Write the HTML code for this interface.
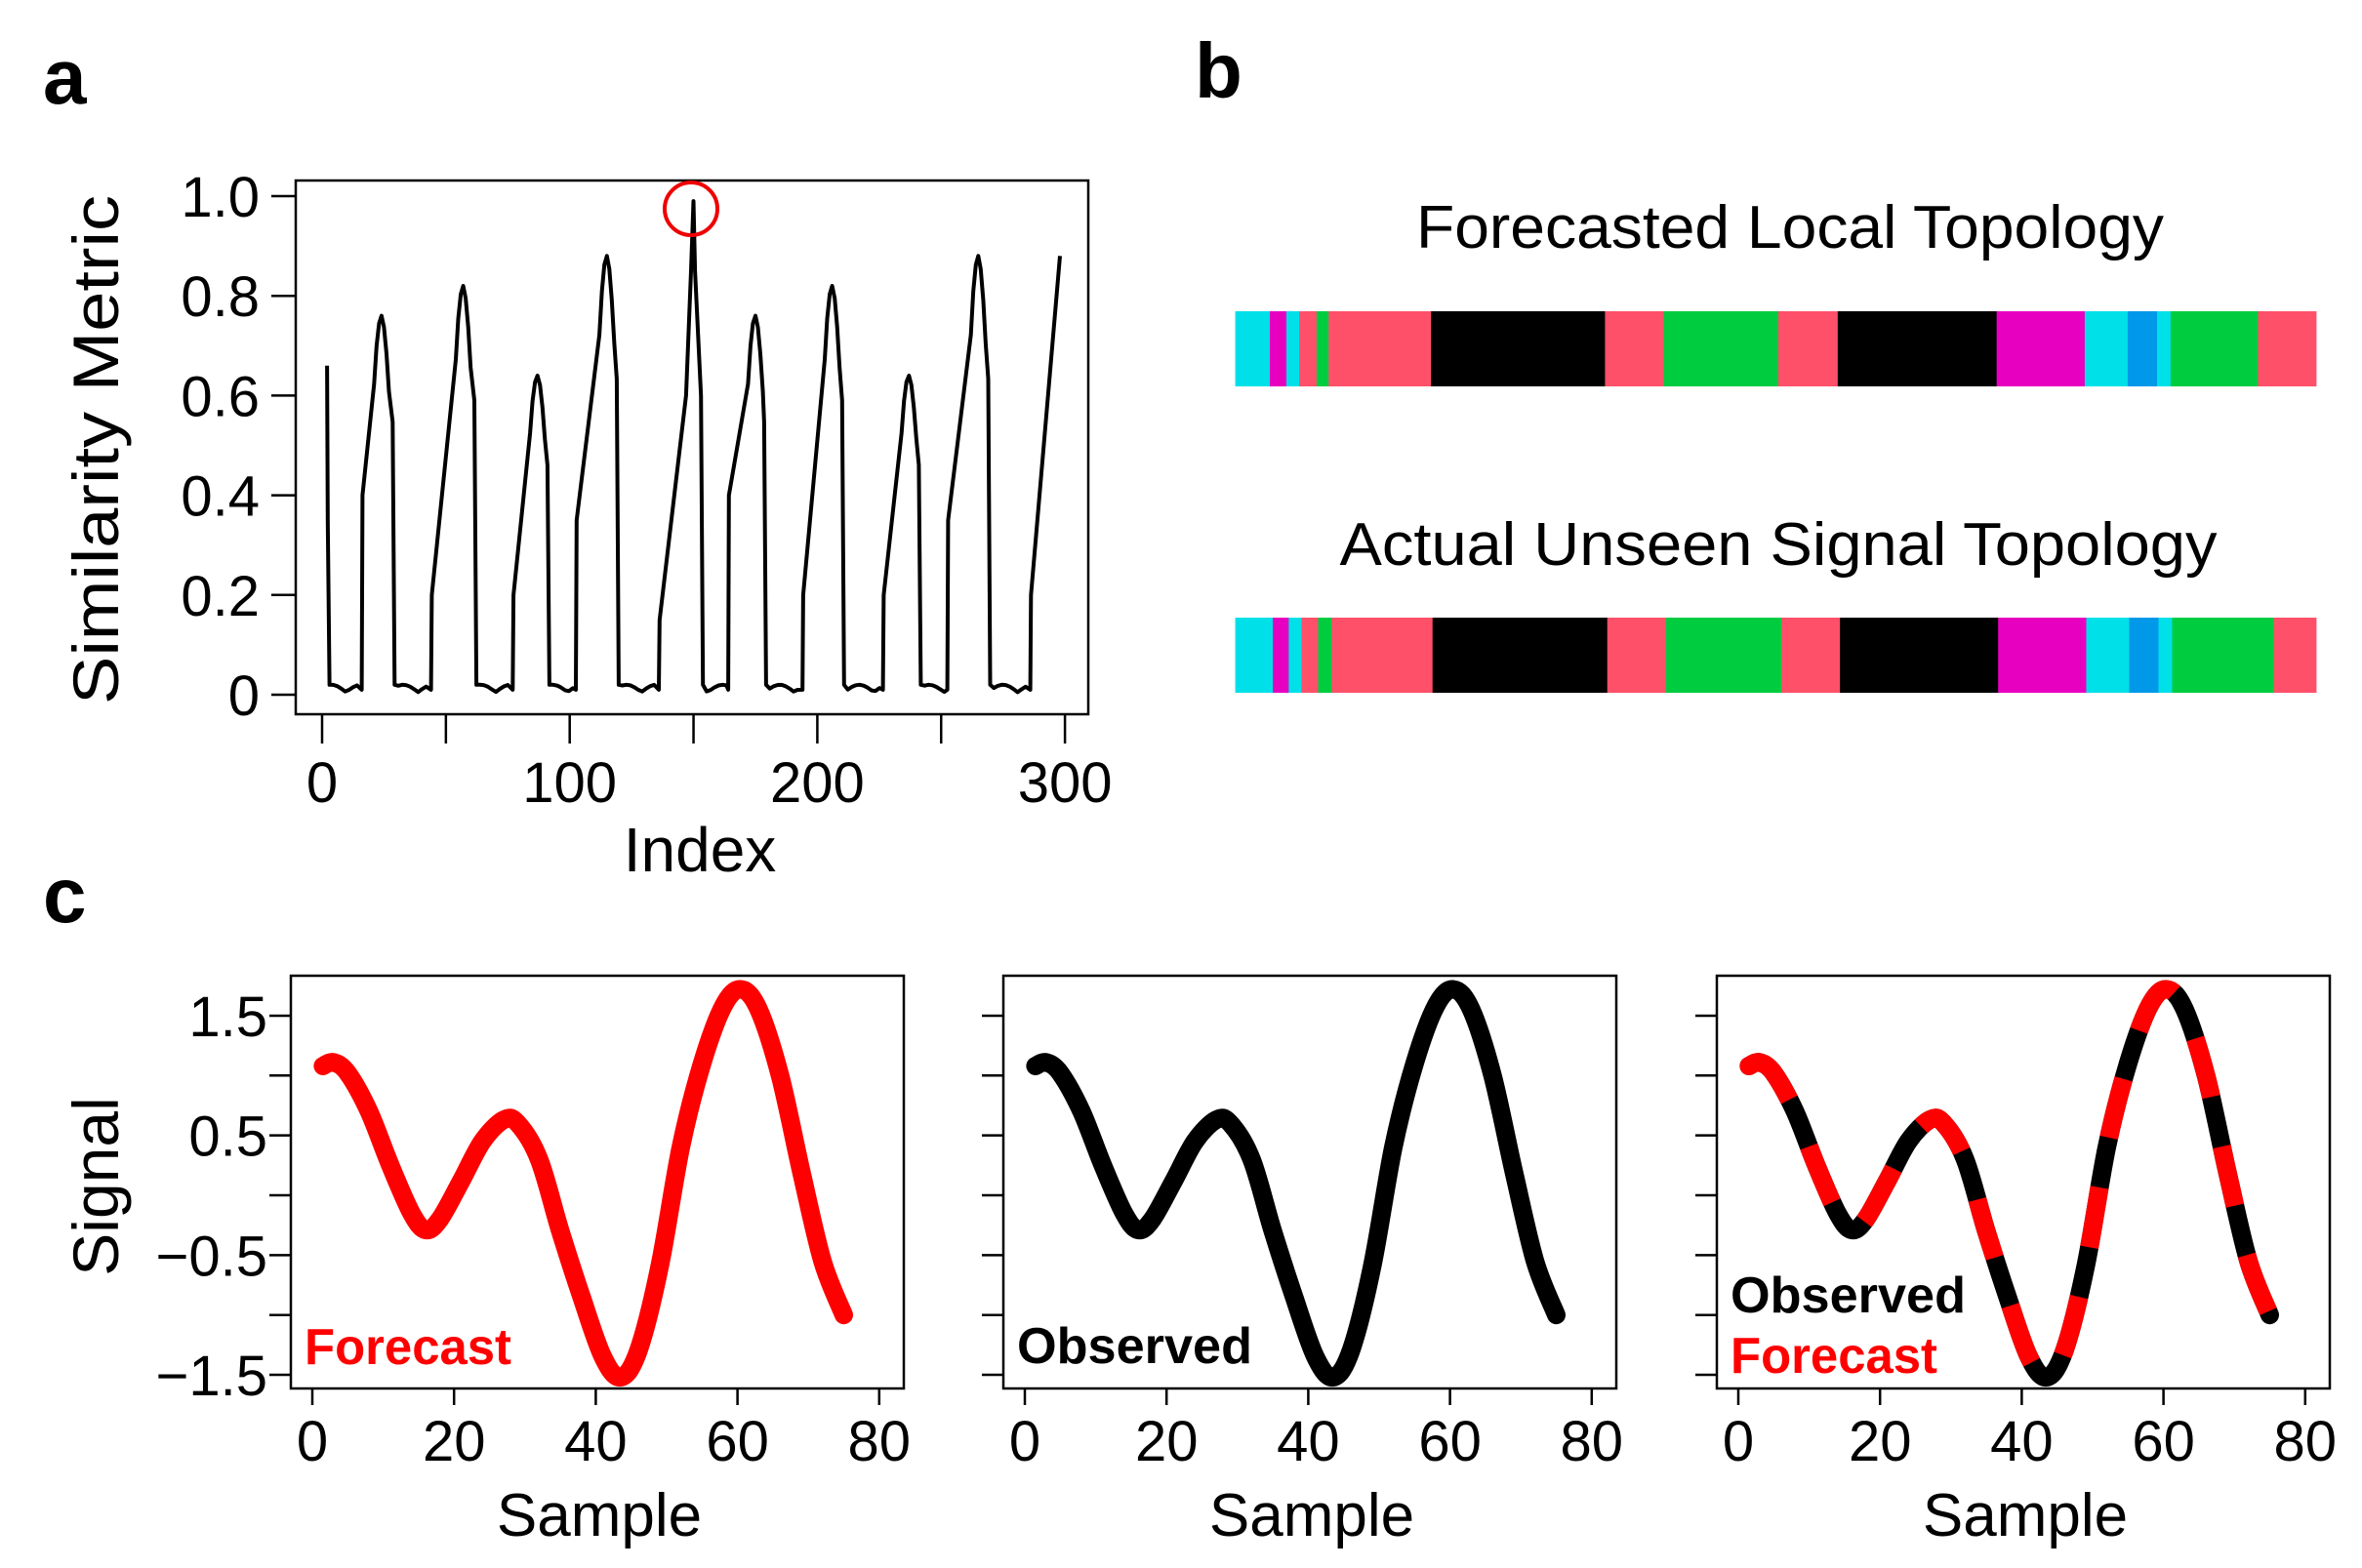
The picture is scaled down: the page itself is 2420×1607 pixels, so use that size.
<!DOCTYPE html>
<html><head><meta charset="utf-8">
<style>
html,body{margin:0;padding:0;background:#fff;}
svg{display:block;}
text{font-family:"Liberation Sans",sans-serif;}
</style></head>
<body>
<svg id="s" width="2420" height="1607" viewBox="0 0 2420 1607" xmlns="http://www.w3.org/2000/svg">
<rect width="2420" height="1607" fill="#fff"/>
<text x="44" y="106" font-size="80" font-weight="bold">a</text>
<text x="1224" y="100" font-size="80" font-weight="bold">b</text>
<text x="44" y="945" font-size="80" font-weight="bold">c</text>

<g id="pa">
<rect x="303" y="185" width="812" height="547" fill="none" stroke="#000" stroke-width="2.5"/>
<g stroke="#000" stroke-width="2.5" id="aticks"></g>
<g font-size="58" text-anchor="end" id="aylab"></g>
<g font-size="58" text-anchor="middle" id="axlab"></g>
<text x="717" y="893" font-size="64" text-anchor="middle">Index</text>
<text transform="translate(121,461) rotate(-90)" font-size="66" text-anchor="middle" textLength="522" lengthAdjust="spacingAndGlyphs">Similarity Metric</text>
<path id="aline" fill="none" stroke="#000" stroke-width="4" stroke-linejoin="round"/>
<circle cx="708" cy="214" r="27" fill="none" stroke="#e00" stroke-width="4"/>
</g>

<text x="1834" y="254" font-size="62" text-anchor="middle" textLength="766" lengthAdjust="spacingAndGlyphs">Forecasted Local Topology</text>
<text x="1822" y="579" font-size="62" text-anchor="middle" textLength="899" lengthAdjust="spacingAndGlyphs">Actual Unseen Signal Topology</text>
<g id="bars"></g>

<g id="pc"></g>
</svg>
<script>
var NS="http://www.w3.org/2000/svg";
function el(p,tag,attrs,txt){var e=document.createElementNS(NS,tag);for(var k in attrs)e.setAttribute(k,attrs[k]);if(txt!==undefined)e.textContent=txt;p.appendChild(e);return e;}
var at=document.getElementById('aticks'),ay=document.getElementById('aylab'),ax=document.getElementById('axlab');
function Ya(v){return 712-v*511;}
function Xa(i){return 330+i*2.537;}
var yl=["0","0.2","0.4","0.6","0.8","1.0"];
for(var k=0;k<=5;k++){var y=Ya(k*0.2);el(at,'line',{x1:278,x2:303,y1:y,y2:y});el(ay,'text',{x:266,y:y+21},yl[k]);}
for(var k=0;k<=6;k++){var x=Xa(k*50);el(at,'line',{x1:x,x2:x,y1:732,y2:762});}
for(var k=0;k<=3;k++){el(ax,'text',{x:Xa(k*100),y:822},String(k*100));}
var peaks=[[16,0.4,24,0.76,28.5],[44,0.2,57,0.82,61.5],[77,0.2,87,0.64,91],[102.5,0.35,115,0.88,119],[136,0.15,150,0.99,153],[164,0.4,175,0.76,178.5],[194,0.2,206,0.82,210],[226.5,0.2,237,0.64,241],[252.5,0.35,265,0.88,269],[286,0.2,298,0.88,null]];
var pts=[[2,0.66],[2.3,0.35],[3,0.02]];
var last=3;
function noise(a,b){for(var t=a+1.5;t<b-0.5;t+=1.6){pts.push([t,0.005+0.015*Math.abs(Math.sin(t*1.7))]);}}
for(var i=0;i<peaks.length;i++){var P=peaks[i];noise(last,P[0]);pts.push([P[0],0.01]);pts.push([P[0]+0.3,P[1]]);
 var p=P[3],pk=P[2];
 if(i==4){pts.push([pk-3,0.6]);pts.push([pk-1,0.85]);pts.push([pk,p]);pts.push([pk+0.6,0.85]);pts.push([P[4],0.6]);}
 else if(P[4]===null){pts.push([pk,p]);break;}
 else{pts.push([pk-3,p*0.82]);pts.push([pk-2,p*0.92]);pts.push([pk-1,p*0.98]);pts.push([pk,p]);pts.push([pk+1,p*0.97]);pts.push([pk+2,p*0.9]);pts.push([pk+3,p*0.8]);pts.push([P[4],p*0.72]);}
 pts.push([P[4]+0.8,0.02]);last=P[4]+0.8;}
var d="";pts.forEach(function(q,j){d+=(j?"L":"M")+Xa(q[0]).toFixed(1)+","+Ya(q[1]).toFixed(1);});
document.getElementById('aline').setAttribute('d',d);
var C={c:"#00E0E8",m:"#E800C0",p:"#FF506A",g:"#00CC40",k:"#000",b:"#0098E8"};
var b1=[[72,"c"],[118,"m"],[140,"c"],[157,"p"],[180,"g"],[196,"p"],[332,"k"],[563,"p"],[641,"g"],[793,"p"],[872,"k"],[1083,"m"],[1200,"c"],[1257,"b"],[1296,"c"],[1314,"g"],[1430,"p"],[1507,null]];
var b2=[[72,"c"],[122,"m"],[143,"c"],[160,"p"],[182,"g"],[200,"p"],[334,"k"],[566,"p"],[644,"g"],[797,"p"],[875,"k"],[1085,"m"],[1202,"c"],[1259,"b"],[1298,"c"],[1316,"g"],[1451,"p"],[1507,null]];
var bars=document.getElementById('bars');
function drawBar(b,y0,y1){for(var i=0;i<b.length-1;i++){var xa=b[i][0]/1.296+1210,xb=b[i+1][0]/1.296+1210;el(bars,'rect',{x:xa,y:y0,width:xb-xa+0.6,height:y1-y0,fill:C[b[i][1]]});}}
drawBar(b1,319,396);drawBar(b2,633,710);
var sp=[[1.5,1.08],[3,1.11],[5,1.02],[8,0.7],[11,0.25],[14,-0.15],[16,-0.29],[18,-0.2],[21,0.12],[24,0.45],[27,0.63],[29,0.6],[32,0.3],[35,-0.3],[38,-0.85],[41,-1.35],[43.5,-1.52],[46,-1.3],[49,-0.6],[52,0.4],[55,1.1],[58,1.58],[60.5,1.72],[63,1.55],[66,1.0],[69,0.2],[72,-0.55],[75,-1.0]];
var pc=document.getElementById('pc');
function curvePath(ox){var P=sp.map(function(q){return [ox+22+q[0]*7.26, 1225-q[1]*122.7];});
 var d="M"+P[0][0]+","+P[0][1];
 for(var i=0;i<P.length-1;i++){var p0=P[Math.max(0,i-1)],p1=P[i],p2=P[i+1],p3=P[Math.min(P.length-1,i+2)];
  var c1x=p1[0]+(p2[0]-p0[0])/6,c1y=p1[1]+(p2[1]-p0[1])/6,c2x=p2[0]-(p3[0]-p1[0])/6,c2y=p2[1]-(p3[1]-p1[1])/6;
  d+="C"+c1x.toFixed(1)+","+c1y.toFixed(1)+" "+c2x.toFixed(1)+","+c2y.toFixed(1)+" "+p2[0].toFixed(1)+","+p2[1].toFixed(1);}
 return d;}
var offs=[298,1028,1759];
var SW=19;
offs.forEach(function(ox,n){
 el(pc,'rect',{x:ox,y:1000,width:628,height:423,fill:"none",stroke:"#000","stroke-width":2.5});
 for(var v=-1.5;v<=1.51;v+=0.5){var y=1225-v*122.7;el(pc,'line',{x1:ox-22,x2:ox,y1:y,y2:y,stroke:"#000","stroke-width":2.5});}
 for(var k=0;k<=4;k++){var x=ox+22+k*145.2;el(pc,'line',{x1:x,x2:x,y1:1423,y2:1440,stroke:"#000","stroke-width":2.5});
  el(pc,'text',{x:x,y:1497,"font-size":58,"text-anchor":"middle"},String(k*20));}
 el(pc,'text',{x:ox+316,y:1574,"font-size":62,"text-anchor":"middle"},"Sample");
 var d=curvePath(ox);
 if(n==0){el(pc,'path',{d:d,fill:"none",stroke:"#f00","stroke-width":SW,"stroke-linecap":"round","stroke-linejoin":"round"});
  el(pc,'text',{x:ox+14,y:1398,"font-size":52,"font-weight":"bold",fill:"#f00",textLength:212,lengthAdjust:"spacingAndGlyphs"},"Forecast");}
 if(n==1){el(pc,'path',{d:d,fill:"none",stroke:"#000","stroke-width":SW,"stroke-linecap":"round","stroke-linejoin":"round"});
  el(pc,'text',{x:ox+14,y:1397,"font-size":52,"font-weight":"bold",fill:"#000",textLength:241,lengthAdjust:"spacingAndGlyphs"},"Observed");}
 if(n==2){el(pc,'path',{d:d,fill:"none",stroke:"#000","stroke-width":SW,"stroke-linecap":"round","stroke-linejoin":"round"});
  el(pc,'path',{d:d,fill:"none",stroke:"#f00","stroke-width":SW,"stroke-linecap":"butt","stroke-dasharray":"62 52"});
  el(pc,'circle',{cx:ox+22+1.5*7.26,cy:1225-1.08*122.7,r:SW/2,fill:"#f00"});
  el(pc,'text',{x:ox+14,y:1345,"font-size":52,"font-weight":"bold",fill:"#000",textLength:241,lengthAdjust:"spacingAndGlyphs"},"Observed");
  el(pc,'text',{x:ox+14,y:1407,"font-size":52,"font-weight":"bold",fill:"#f00",textLength:212,lengthAdjust:"spacingAndGlyphs"},"Forecast");}
});
var yl2=[["1.5",1.5],["0.5",0.5],["\u22120.5",-0.5],["\u22121.5",-1.5]];
yl2.forEach(function(q){el(pc,'text',{x:274,y:1225-q[1]*122.7+21,"font-size":58,"text-anchor":"end"},q[0]);});
el(pc,'text',{transform:"translate(121,1216) rotate(-90)","font-size":66,"text-anchor":"middle"},"Signal");
</script>
</body></html>
